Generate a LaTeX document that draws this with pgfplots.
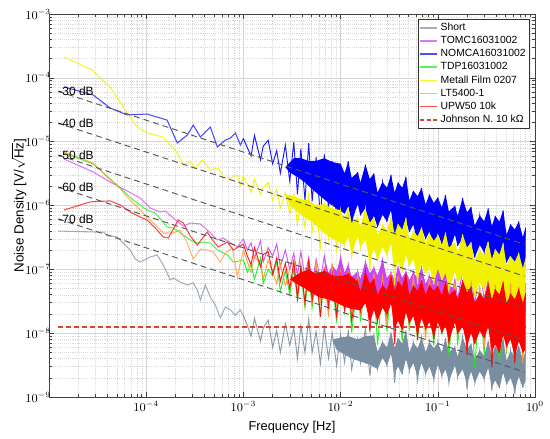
\documentclass[border=0pt]{standalone}
\usepackage{fontspec}
\setmainfont{Liberation Sans}
\usepackage{pgfplots}
\usepackage{pgfplotstable}
\pgfplotsset{compat=1.18}
\definecolor{cShort}{HTML}{7A8EA2}
\definecolor{cTOMC}{HTML}{CC44EE}
\definecolor{cNOMCA}{HTML}{0000FF}
\definecolor{cTDP}{HTML}{11EE11}
\definecolor{cMetall}{HTML}{F2F200}
\definecolor{cLT}{HTML}{FF9933}
\definecolor{cUPW}{HTML}{FF0000}
\definecolor{cJohn}{HTML}{D9452B}
\definecolor{cRef}{HTML}{555555}

\pgfplotstableread[row sep=\\]{
f gray mag blue green yel ora red\\
1.0e-3 1.9e-8 3.0e-7 1.12e-5 1.4e-7 2.9e-6 2.0e-7 2.5e-7\\
1.1e-3 1.3e-8 2.0e-7 8.0e-6 9.0e-8 2.2e-6 1.3e-7 1.6e-7\\
1.2e-3 9.0e-9 2.6e-7 6.0e-6 1.2e-7 1.6e-6 9.0e-8 1.2e-7\\
1.3e-3 1.7e-8 1.5e-7 1.25e-5 7.0e-8 2.6e-6 1.6e-7 2.2e-7\\
1.5e-3 7.5e-9 2.8e-7 5.2e-6 1.5e-7 1.5e-6 1.2e-7 1.1e-7\\
1.6e-3 1.2e-8 1.3e-7 8.5e-6 6.0e-8 1.9e-6 7.0e-8 1.7e-7\\
1.8e-3 1.6e-8 2.2e-7 1.05e-5 1.0e-7 2.3e-6 1.4e-7 1.9e-7\\
2.0e-3 6.0e-9 1.6e-7 4.5e-6 8.0e-8 1.2e-6 9.0e-8 8.5e-8\\
2.2e-3 1.1e-8 2.5e-7 7.2e-6 1.3e-7 1.8e-6 6.0e-8 1.5e-7\\
2.4e-3 5.0e-9 1.1e-7 3.2e-6 4.5e-8 9.0e-7 1.2e-7 6.5e-8\\
2.7e-3 1.4e-8 2.0e-7 8.8e-6 9.5e-8 1.6e-6 5.5e-8 1.25e-7\\
3.0e-3 6.5e-9 1.0e-7 2.4e-6 4.0e-8 7.5e-7 1.0e-7 5.0e-8\\
3.3e-3 1.2e-8 1.8e-7 9.8e-6 1.0e-7 1.5e-6 1.4e-7 1.3e-7\\
3.6e-3 4.0e-9 8.0e-8 1.5e-6 3.5e-8 5.0e-7 4.0e-8 3.5e-8\\
3.9e-3 1.3e-8 1.9e-7 7.8e-6 1.0e-7 1.3e-6 1.2e-7 1.1e-7\\
4.3e-3 5.0e-9 7.5e-8 1.2e-6 2.5e-8 4.5e-7 3.0e-8 3.0e-8\\
4.7e-3 1.69e-8 1.53e-7 9.48e-6 8.61e-8 1.60e-6 1.14e-7 1.43e-7\\
5.1e-3 5.0e-9 5.85e-8 1.16e-6 2.55e-8 3.97e-7 2.90e-8 3.29e-8\\
5.6e-3 1.06e-8 1.44e-7 5.71e-6 9.75e-8 9.84e-7 1.29e-7 8.89e-8\\
6.2e-3 3.34e-9 6.90e-8 6.21e-7 1.80e-8 2.10e-7 3.13e-8 1.80e-8\\
6.8e-3 1.23e-8 1.62e-7 6.34e-6 8.22e-8 1.12e-6 1.10e-7 1.02e-7\\
7.5e-3 4.04e-9 4.58e-8 9.0e-7 2.22e-8 3.00e-7 1.78e-8 2.67e-8\\
8.2e-3 1.01e-8 1.16e-7 5.01e-6 6.97e-8 9.06e-7 1.20e-7 8.38e-8\\
9.1e-3 3.13e-9 5.41e-8 6.22e-7 1.46e-8 2.04e-7 2.21e-8 1.88e-8\\
0.010 9.55e-9 1.56e-7 4.51e-6 7.83e-8 8.39e-7 9.10e-8 7.83e-8\\
0.011 3.48e-9 5.89e-8 7.48e-7 2.16e-8 2.43e-7 2.40e-8 2.32e-8\\
0.012 1.12e-8 1.19e-7 4.93e-6 6.71e-8 9.38e-7 9.48e-8 8.85e-8\\
0.013 2.72e-9 3.39e-8 4.9e-7 1.02e-8 1.56e-7 1.73e-8 1.55e-8\\
0.015 8.26e-9 9.33e-8 3.33e-6 7.50e-8 6.52e-7 8.51e-8 6.46e-8\\
0.016 3.44e-9 4.44e-8 7.03e-7 1.50e-8 2.21e-7 2.02e-8 2.27e-8\\
0.018 1.17e-8 1.32e-7 4.37e-6 5.96e-8 8.77e-7 8.32e-8 9.12e-8\\
0.020 2.16e-9 5.0e-8 3.16e-7 1.86e-8 9.79e-8 1.62e-8 1.05e-8\\
0.022 9.25e-9 1.07e-7 3.19e-6 6.44e-8 6.59e-7 8.89e-8 7.23e-8\\
0.024 2.74e-9 3.75e-8 4.59e-7 6.47e-9 1.40e-7 1.74e-8 1.55e-8\\
0.027 7.31e-9 1.41e-7 2.33e-6 5.86e-8 4.94e-7 7.55e-8 5.73e-8\\
0.030 3.12e-9 4.59e-8 5.57e-7 1.06e-8 1.67e-7 1.35e-8 1.93e-8\\
0.033 1.03e-8 9.03e-8 3.03e-6 5.70e-8 6.59e-7 8.83e-8 8.05e-8\\
0.036 1.66e-9 3.91e-8 1.90e-7 1.34e-8 5.62e-8 1.59e-8 6.71e-9\\
0.039 8.38e-9 1.09e-7 2.31e-6 6.12e-8 5.14e-7 7.80e-8 6.56e-8\\
0.043 2.25e-9 4.39e-8 3.10e-7 7.40e-9 9.06e-8 1.06e-8 1.12e-8\\
0.047 1.10e-8 9.27e-8 2.82e-6 5.21e-8 6.44e-7 6.87e-8 8.65e-8\\
0.051 2.59e-9 3.61e-8 3.85e-7 1.10e-8 1.11e-7 1.25e-8 1.42e-8\\
0.056 7.13e-9 9.06e-8 1.70e-6 6.12e-8 3.97e-7 8.07e-8 5.58e-8\\
0.062 1.81e-9 4.43e-8 2.07e-7 7.78e-9 5.87e-8 1.35e-8 7.78e-9\\
0.068 8.55e-9 1.06e-7 1.89e-6 5.38e-8 4.52e-7 7.18e-8 6.70e-8\\
0.075 2.29e-9 3.06e-8 2.99e-7 9.57e-9 8.38e-8 7.69e-9 1.15e-8\\
0.082 7.26e-9 7.87e-8 1.49e-6 4.74e-8 3.66e-7 8.15e-8 5.70e-8\\
0.091 1.86e-9 3.76e-8 2.07e-7 6.31e-9 5.70e-8 9.55e-9 8.13e-9\\
0.10 7.08e-9 1.11e-7 1.34e-6 5.56e-8 3.39e-7 6.46e-8 5.56e-8\\
0.11 2.11e-9 4.27e-8 2.49e-7 9.33e-9 6.78e-8 1.04e-8 1.0e-8\\
0.12 8.32e-9 8.81e-8 1.47e-6 4.95e-8 3.78e-7 7.0e-8 6.53e-8\\
0.13 1.65e-9 2.54e-8 1.63e-7 4.41e-9 4.37e-8 7.48e-9 6.67e-9\\
0.15 6.12e-9 6.95e-8 9.91e-7 5.58e-8 2.63e-7 6.34e-8 4.81e-8\\
0.16 2.08e-9 3.30e-8 2.34e-7 6.47e-9 6.18e-8 8.73e-9 9.79e-9\\
0.18 8.65e-9 9.82e-8 1.30e-6 4.44e-8 3.54e-7 6.19e-8 6.79e-8\\
0.20 1.31e-9 3.72e-8 1.05e-7 8.04e-9 2.74e-8 7.0e-9 4.52e-9\\
0.22 6.86e-9 7.96e-8 9.51e-7 4.80e-8 2.66e-7 6.62e-8 5.38e-8\\
0.24 1.66e-9 2.79e-8 1.53e-7 2.79e-9 3.92e-8 7.52e-9 6.70e-9\\
0.27 5.42e-9 1.05e-7 6.95e-7 4.37e-8 2.0e-7 5.62e-8 4.27e-8\\
0.30 1.90e-9 3.42e-8 1.85e-7 4.58e-9 4.67e-8 5.83e-9 8.34e-9\\
0.33 7.64e-9 6.73e-8 9.02e-7 4.25e-8 2.66e-7 6.58e-8 6.0e-8\\
0.36 1.25e-9 2.91e-8 6.31e-8 5.78e-9 1.57e-8 6.87e-9 2.90e-9\\
0.39 6.21e-9 8.11e-8 6.87e-7 4.56e-8 2.07e-7 5.81e-8 4.89e-8\\
0.43 1.37e-9 3.27e-8 1.03e-7 3.19e-9 2.53e-8 4.56e-9 4.83e-9\\
0.47 8.18e-9 6.90e-8 8.41e-7 3.88e-8 2.60e-7 5.12e-8 6.44e-8\\
0.51 1.57e-9 2.69e-8 1.28e-7 4.75e-9 3.10e-8 5.40e-9 6.12e-9\\
0.56 5.28e-9 6.75e-8 5.07e-7 4.56e-8 1.60e-7 6.01e-8 4.16e-8\\
0.62 1.10e-9 3.30e-8 6.87e-8 3.36e-9 1.64e-8 5.83e-9 3.36e-9\\
0.68 6.34e-9 7.91e-8 5.62e-7 4.01e-8 1.82e-7 5.35e-8 4.99e-8\\
0.75 1.39e-9 2.28e-8 9.95e-8 4.13e-9 2.34e-8 3.32e-9 4.97e-9\\
0.80 5.41e-9 5.87e-8 4.50e-7 3.54e-8 1.49e-7 6.08e-8 4.26e-8\\
}\noisy

\begin{document}
\begin{tikzpicture}
\path[use as bounding box] (-36.75pt,-31.5pt) rectangle (375.75pt,297.75pt);
\begin{axis}[
  at={(0pt,0pt)}, anchor=south west,
  scale only axis, width=364.5pt, height=287.25pt,
  xmode=log, ymode=log,
  xmin=1e-5, xmax=1, ymin=1e-9, ymax=1e-3,
  xtick={1e-5,1e-4,1e-3,1e-2,1e-1,1},
  xticklabels={{},$10^{-4}$,$10^{-3}$,$10^{-2}$,$10^{-1}$,$10^{0}$},
  ytick={1e-9,1e-8,1e-7,1e-6,1e-5,1e-4,1e-3},
  grid=both,
  major grid style={draw=black!17, line width=0.4pt},
  minor grid style={draw=black!15, line width=0.35pt, dash pattern=on 0.8pt off 0.8pt},
  axis line style={draw=black!75, line width=0.5pt},
  tick style={draw=black!75, line width=0.4pt},
  tick align=inside,
  major tick length=3.5pt, minor tick length=2pt,
  ticklabel style={font=\fontsize{9}{10}\selectfont},
  yticklabel style={inner sep=0.8pt, xshift=2.5pt},
  label style={font=\fontsize{9.6}{11}\selectfont},
  xlabel={Frequency [Hz]},
  ylabel={Noise Density [V/$\sqrt{\mbox{Hz}}$]},
  every axis y label/.style={at={(axis description cs:-0.062,0.5)}, rotate=90, anchor=center},
  legend style={at={(0.9897,0.987)}, anchor=north east, draw=black!80, fill=white,
    line width=0.5pt, font=\fontsize{7.8}{9}\selectfont, inner xsep=1pt, inner ysep=1pt,
    row sep=-1.2pt},
  legend cell align=left,
  legend image code/.code={\draw[#1, line width=1.1pt] (0pt,0pt) -- (13pt,0pt);},
]
% ---- Short
\addplot[fill=cShort, draw=none, forget plot] coordinates {
(8.2e-3,8.0e-9) (0.010,8.5e-9) (0.012,9.0e-9) (0.015,8.0e-9) (0.018,9.0e-9)
(0.022,9.25e-9) (0.024,5.1e-9) (0.027,7.31e-9) (0.030,6.0e-9) (0.033,1.03e-8) (0.036,5.9e-9) (0.039,8.38e-9) (0.043,6.9e-9) (0.047,1.10e-8) (0.051,5.0e-9) (0.056,7.13e-9) (0.062,5.8e-9) (0.068,8.55e-9) (0.075,5.1e-9) (0.082,7.26e-9) (0.091,5.8e-9) (0.10,7.08e-9) (0.11,5.0e-9) (0.12,8.32e-9) (0.13,5.0e-9) (0.15,6.12e-9) (0.16,4.3e-9) (0.18,8.65e-9) (0.20,5.6e-9) (0.22,6.86e-9) (0.24,3.8e-9) (0.27,5.42e-9) (0.30,4.4e-9) (0.33,7.64e-9) (0.36,4.3e-9) (0.39,6.21e-9) (0.43,5.1e-9) (0.47,8.18e-9) (0.51,3.7e-9) (0.56,5.28e-9) (0.62,4.3e-9) (0.68,6.34e-9) (0.75,3.8e-9) (0.80,5.41e-9)
(0.80,1.8e-9) (0.75,1.39e-9) (0.68,2.1e-9) (0.62,1.27e-9) (0.56,2.0e-9) (0.51,1.57e-9) (0.47,2.4e-9) (0.43,1.37e-9) (0.39,1.83e-9) (0.36,1.41e-9) (0.33,2.85e-9) (0.30,1.90e-9) (0.27,2.5e-9) (0.24,1.66e-9) (0.22,2.5e-9) (0.20,1.61e-9) (0.18,2.7e-9) (0.16,2.08e-9) (0.15,3.1e-9) (0.13,1.77e-9) (0.12,2.7e-9) (0.11,2.11e-9) (0.10,3.2e-9) (0.091,1.86e-9) (0.082,3.0e-9) (0.075,2.29e-9) (0.068,3.4e-9) (0.062,2.08e-9) (0.056,3.4e-9) (0.051,2.59e-9) (0.047,3.9e-9) (0.043,2.25e-9) (0.039,3.0e-9) (0.036,2.34e-9) (0.033,4.7e-9) (0.030,3.12e-9) (0.027,4.1e-9) (0.024,2.74e-9)
(0.020,3.2e-9) (0.016,3.6e-9) (0.013,4.0e-9) (0.011,4.6e-9) (9.1e-3,5.5e-9)} -- cycle;
\addplot[cShort, line width=0.8pt, opacity=0.7] coordinates {
(1.24e-5,3.98e-7) (3.13e-5,3.84e-7) (3.61e-5,3.84e-7) (3.96e-5,3.45e-7) (5.02e-5,3.21e-7) (6.84e-5,2.01e-7) (7.71e-5,1.45e-7) (8.67e-5,1.30e-7) (1.10e-4,1.56e-7) (1.30e-4,1.68e-7) (1.50e-4,1.17e-7) (1.77e-4,6.81e-8) (1.90e-4,7.31e-8) (2.24e-4,6.33e-8) (2.65e-4,5.68e-8) (3.05e-4,6.11e-8) (3.36e-4,4.74e-8) (3.61e-4,3.31e-8) (4.06e-4,5.68e-8) (4.57e-4,3.68e-8) (5.14e-4,2.76e-8) (5.79e-4,1.73e-8) (6.52e-4,2.57e-8) (7.35e-4,2.31e-8) (8.28e-4,1.92e-8) (9.31e-4,2.31e-8) (1.0e-3,1.9e-8)};
\addlegendentry{Short}
\addplot[cShort, line width=0.7pt, opacity=0.9, forget plot] table[x=f, y=gray] {\noisy};
% ---- TOMC
\addplot[fill=cTOMC, draw=none, forget plot] coordinates {
(6.8e-3,1.62e-7) (7.5e-3,8.7e-8) (8.2e-3,1.16e-7) (9.1e-3,9.3e-8) (0.010,1.56e-7) (0.011,8.9e-8) (0.012,1.19e-7) (0.013,7.5e-8) (0.015,9.33e-8) (0.016,7.0e-8) (0.018,1.32e-7) (0.020,8.6e-8) (0.022,1.07e-7) (0.024,8.0e-8) (0.027,1.41e-7) (0.030,7.2e-8) (0.033,9.03e-8) (0.036,6.8e-8) (0.039,1.09e-7) (0.043,7.4e-8) (0.047,9.27e-8) (0.051,6.8e-8) (0.056,9.06e-8) (0.062,7.2e-8) (0.068,1.06e-7) (0.075,5.9e-8) (0.082,7.87e-8) (0.091,6.3e-8) (0.10,1.11e-7) (0.11,6.6e-8) (0.12,8.81e-8) (0.13,5.6e-8) (0.15,5.0e-8)
(0.12,3.0e-8) (0.05,3.5e-8) (0.02,4.0e-8) (0.01,5.0e-8) (7.5e-3,5.0e-8)} -- cycle;
\addplot[cTOMC, line width=0.8pt, opacity=0.7] coordinates {
(1.43e-5,5.35e-6) (2.85e-5,3.35e-6) (4.26e-5,2.33e-6) (6.37e-5,1.69e-6) (8.67e-5,1.31e-6) (1.10e-4,9.14e-7) (1.39e-4,7.91e-7) (1.57e-4,8.20e-7) (1.90e-4,6.37e-7) (2.41e-4,4.77e-7) (2.84e-4,5.32e-7) (3.61e-4,5.13e-7) (4.25e-4,4.13e-7) (5.40e-4,2.88e-7) (6.22e-4,3.10e-7) (7.35e-4,2.58e-7) (8.68e-4,2.24e-7) (1.0e-3,3.0e-7)};
\addlegendentry{TOMC16031002}
\addplot[cTOMC, line width=0.7pt, opacity=0.9, forget plot] table[x=f, y=mag] {\noisy};
% ---- NOMCA
\addplot[fill=cNOMCA, draw=none, forget plot] coordinates {
(2.7e-3,4.0e-6) (3.3e-3,5.5e-6) (3.9e-3,5.5e-6) (4.7e-3,5.0e-6) (5.6e-3,5.0e-6) (6.8e-3,5.5e-6) (8.2e-3,4.8e-6)
(0.010,4.51e-6) (0.011,3.2e-6) (0.012,4.93e-6) (0.013,2.7e-6) (0.015,3.33e-6) (0.016,2.3e-6) (0.018,4.37e-6) (0.020,2.6e-6) (0.022,3.19e-6) (0.024,1.6e-6) (0.027,2.33e-6) (0.030,1.9e-6) (0.033,3.03e-6) (0.036,1.6e-6) (0.039,2.31e-6) (0.043,1.9e-6) (0.047,2.82e-6) (0.051,1.2e-6) (0.056,1.70e-6) (0.062,1.4e-6) (0.068,1.89e-6) (0.075,1.04e-6) (0.082,1.49e-6) (0.091,1.1e-6) (0.10,1.34e-6) (0.11,9.4e-7) (0.12,1.47e-6) (0.13,8.1e-7) (0.15,9.91e-7) (0.16,6.9e-7) (0.18,1.30e-6) (0.20,7.8e-7) (0.22,9.51e-7) (0.24,4.9e-7) (0.27,6.95e-7) (0.30,5.7e-7) (0.33,9.02e-7) (0.36,4.8e-7) (0.39,6.87e-7) (0.43,5.6e-7) (0.47,8.41e-7) (0.51,3.5e-7) (0.56,5.07e-7) (0.62,4.2e-7) (0.68,5.62e-7) (0.75,3.2e-7) (0.80,4.50e-7)
(0.80,1.1e-7) (0.75,9.95e-8) (0.68,1.5e-7) (0.62,8.66e-8) (0.56,1.66e-7) (0.51,1.28e-7) (0.47,1.9e-7) (0.43,1.03e-7) (0.39,1.46e-7) (0.36,1.12e-7) (0.33,2.8e-7) (0.30,1.85e-7) (0.27,2.4e-7) (0.24,1.53e-7) (0.22,2.3e-7) (0.20,1.48e-7) (0.18,3.0e-7) (0.16,2.34e-7) (0.15,3.5e-7) (0.13,1.83e-7) (0.12,3.2e-7) (0.11,2.49e-7) (0.10,3.7e-7) (0.091,2.17e-7) (0.082,3.9e-7) (0.075,2.99e-7) (0.068,4.5e-7) (0.062,2.61e-7) (0.056,5.0e-7) (0.051,3.85e-7) (0.047,5.8e-7) (0.043,3.10e-7) (0.039,4.4e-7) (0.036,3.38e-7) (0.033,8.4e-7) (0.030,5.57e-7) (0.027,7.2e-7) (0.024,4.59e-7) (0.022,6.9e-7) (0.020,4.46e-7) (0.018,9.1e-7) (0.016,7.03e-7) (0.015,1.05e-6) (0.013,5.49e-7) (0.012,9.7e-7) (0.011,7.48e-7)
(9.1e-3,9.0e-7) (7.5e-3,1.1e-6) (6.2e-3,1.4e-6) (5.1e-3,1.8e-6) (4.3e-3,2.3e-6) (3.6e-3,2.8e-6) (3.0e-3,3.3e-6)} -- cycle;
\addplot[cNOMCA, line width=0.8pt, opacity=0.7] coordinates {
(1.43e-5,7.18e-5) (2.85e-5,5.38e-5) (4.26e-5,3.37e-5) (6.37e-5,2.62e-5) (1.02e-4,2.71e-5) (1.39e-4,2.35e-5) (1.64e-4,2.18e-5) (2.09e-4,9.53e-6) (2.65e-4,1.27e-5) (3.05e-4,1.82e-5) (3.61e-4,1.18e-5) (4.57e-4,1.70e-5) (5.40e-4,8.25e-6) (6.52e-4,1.06e-5) (7.35e-4,1.14e-5) (8.28e-4,1.37e-5) (9.31e-4,8.87e-6) (1.0e-3,1.12e-5)};
\addlegendentry{NOMCA16031002}
\addplot[cNOMCA, line width=0.7pt, opacity=0.9, forget plot] table[x=f, y=blue] {\noisy};
% ---- TDP
\addplot[cTDP, line width=0.8pt, opacity=0.7] coordinates {
(1.43e-5,6.64e-6) (2.85e-5,4.47e-6) (3.36e-5,3.60e-6) (5.02e-5,2.09e-6) (7.35e-5,1.22e-6) (1.02e-4,8.50e-7) (1.24e-4,7.63e-7) (1.64e-4,4.60e-7) (1.90e-4,4.44e-7) (2.41e-4,3.45e-7) (2.84e-4,2.88e-7) (3.36e-4,2.58e-7) (3.87e-4,2.68e-7) (4.57e-4,2.58e-7) (5.40e-4,2.01e-7) (6.84e-4,1.68e-7) (7.89e-4,1.30e-7) (1.0e-3,1.4e-7)};
\addlegendentry{TDP16031002}
\addplot[cTDP, line width=0.7pt, opacity=0.9, forget plot] table[x=f, y=green] {\noisy};
% ---- Metall film
\addplot[fill=cMetall, draw=none, forget plot] coordinates {
(2.7e-3,1.5e-6) (3.3e-3,1.4e-6) (3.9e-3,1.25e-6) (4.7e-3,1.2e-6) (5.6e-3,1.0e-6) (6.8e-3,1.05e-6) (8.2e-3,9.0e-7)
(0.010,8.39e-7) (0.011,5.9e-7) (0.012,9.38e-7) (0.013,5.3e-7) (0.015,6.52e-7) (0.016,4.6e-7) (0.018,8.77e-7) (0.020,5.4e-7) (0.022,6.59e-7) (0.024,3.5e-7) (0.027,4.94e-7) (0.030,4.1e-7) (0.033,6.59e-7) (0.036,3.6e-7) (0.039,5.14e-7) (0.043,4.2e-7) (0.047,6.44e-7) (0.051,2.8e-7) (0.056,3.97e-7) (0.062,3.3e-7) (0.068,4.52e-7) (0.075,2.6e-7) (0.082,3.66e-7) (0.091,2.8e-7) (0.10,3.39e-7) (0.11,2.4e-7) (0.12,3.78e-7) (0.13,2.2e-7) (0.15,2.63e-7) (0.16,1.8e-7) (0.18,3.54e-7) (0.20,2.2e-7) (0.22,2.66e-7) (0.24,1.4e-7) (0.27,2.0e-7) (0.30,1.64e-7) (0.33,2.66e-7) (0.36,1.45e-7) (0.39,2.07e-7) (0.43,1.7e-7) (0.47,2.60e-7) (0.51,1.12e-7) (0.56,1.60e-7) (0.62,1.31e-7) (0.68,1.82e-7) (0.75,1.04e-7) (0.80,1.49e-7)
(0.80,2.6e-8) (0.75,2.34e-8) (0.68,3.5e-8) (0.62,2.07e-8) (0.56,4.0e-8) (0.51,3.10e-8) (0.47,4.7e-8) (0.43,2.53e-8) (0.39,3.6e-8) (0.36,2.79e-8) (0.33,7.0e-8) (0.30,4.67e-8) (0.27,6.1e-8) (0.24,3.92e-8) (0.22,5.9e-8) (0.20,3.86e-8) (0.18,8.0e-8) (0.16,6.18e-8) (0.15,9.3e-8) (0.13,4.89e-8) (0.12,8.8e-8) (0.11,6.78e-8) (0.10,1.02e-7) (0.091,5.99e-8) (0.082,1.09e-7) (0.075,8.38e-8) (0.068,1.26e-7) (0.062,7.40e-8) (0.056,1.44e-7) (0.051,1.11e-7) (0.047,1.67e-7) (0.043,9.06e-8) (0.039,1.3e-7) (0.036,1.0e-7) (0.033,2.5e-7) (0.030,1.67e-7) (0.027,2.2e-7) (0.024,1.40e-7) (0.022,2.1e-7) (0.020,1.38e-7) (0.018,2.9e-7) (0.016,2.21e-7) (0.015,3.3e-7) (0.013,1.75e-7) (0.012,3.2e-7) (0.011,2.43e-7)
(9.1e-3,2.8e-7) (7.5e-3,3.3e-7) (6.2e-3,4.2e-7) (5.1e-3,5.5e-7) (4.3e-3,6.5e-7) (3.6e-3,8.0e-7) (3.0e-3,1.0e-6)} -- cycle;
\addplot[cMetall, line width=0.8pt, opacity=0.8] coordinates {
(1.43e-5,2.12e-4) (2.77e-5,1.33e-4) (4.26e-5,7.18e-5) (6.37e-5,2.81e-5) (8.07e-5,1.70e-5) (1.02e-4,1.37e-5) (1.50e-4,1.18e-5) (2.09e-4,6.64e-6) (2.41e-4,4.31e-6) (2.84e-4,4.80e-6) (3.20e-4,3.87e-6) (3.78e-4,5.16e-6) (4.57e-4,3.60e-6) (5.52e-4,3.87e-6) (6.22e-4,2.79e-6) (7.35e-4,2.70e-6) (8.68e-4,3.01e-6) (9.31e-4,2.09e-6) (1.0e-3,2.9e-6)};
\addlegendentry{Metall Film 0207}
\addplot[cMetall, line width=0.7pt, opacity=0.95, forget plot] table[x=f, y=yel] {\noisy};
% ---- LT5400
\addplot[cLT, line width=0.8pt, opacity=0.7] coordinates {
(1.43e-5,6.90e-6) (2.85e-5,4.63e-6) (4.26e-5,2.51e-6) (5.02e-5,2.09e-6) (6.37e-5,1.36e-6) (8.67e-5,8.50e-7) (1.10e-4,5.93e-7) (1.50e-4,3.71e-7) (1.90e-4,3.71e-7) (2.24e-4,4.13e-7) (2.65e-4,2.58e-7) (3.05e-4,1.45e-7) (3.61e-4,2.08e-7) (4.25e-4,2.01e-7) (4.91e-4,1.87e-7) (5.79e-4,1.30e-7) (6.52e-4,1.80e-7) (7.70e-4,2.16e-7) (8.68e-4,7.58e-8) (9.31e-4,1.26e-7) (1.0e-3,2.0e-7)};
\addlegendentry{LT5400-1}
\addplot[cLT, line width=0.7pt, opacity=0.9, forget plot] table[x=f, y=ora] {\noisy};
% ---- Johnson (drawn beneath red)
\addplot[cJohn, line width=1.5pt, dash pattern=on 3.6pt off 2.4pt, forget plot] coordinates {(1.24e-5,1.25e-8) (0.8,1.25e-8)};
% ---- UPW50
\addplot[fill=cUPW, draw=none, forget plot] coordinates {
(3.0e-3,7.0e-8) (3.9e-3,9.0e-8) (4.7e-3,1.0e-7) (5.6e-3,8.5e-8) (6.8e-3,9.5e-8) (8.2e-3,8.0e-8) (0.010,7.8e-8) (0.012,8.5e-8)
(0.015,6.46e-8) (0.016,4.5e-8) (0.018,9.12e-8) (0.020,5.9e-8) (0.022,7.23e-8) (0.024,4.0e-8) (0.027,5.73e-8) (0.030,4.7e-8) (0.033,8.05e-8) (0.036,4.6e-8) (0.039,6.56e-8) (0.043,5.4e-8) (0.047,8.65e-8) (0.051,3.9e-8) (0.056,5.58e-8) (0.062,4.6e-8) (0.068,6.70e-8) (0.075,4.0e-8) (0.082,5.70e-8) (0.091,4.6e-8) (0.10,5.56e-8) (0.11,3.9e-8) (0.12,6.53e-8) (0.13,3.9e-8) (0.15,4.81e-8) (0.16,3.4e-8) (0.18,6.79e-8) (0.20,4.4e-8) (0.22,5.38e-8) (0.24,3.0e-8) (0.27,4.27e-8) (0.30,3.5e-8) (0.33,6.0e-8) (0.36,3.4e-8) (0.39,4.89e-8) (0.43,4.0e-8) (0.47,6.44e-8) (0.51,2.9e-8) (0.56,4.16e-8) (0.62,3.4e-8) (0.68,4.99e-8) (0.75,3.0e-8) (0.80,4.26e-8)
(0.80,5.5e-9) (0.75,4.97e-9) (0.68,7.5e-9) (0.62,4.23e-9) (0.56,8.0e-9) (0.51,6.12e-9) (0.47,9.2e-9) (0.43,4.83e-9) (0.39,6.7e-9) (0.36,5.16e-9) (0.33,1.25e-8) (0.30,8.34e-9) (0.27,1.08e-8) (0.24,6.70e-9) (0.22,1.0e-8) (0.20,6.37e-9) (0.18,1.27e-8) (0.16,9.79e-9) (0.15,1.47e-8) (0.13,7.47e-9) (0.12,1.3e-8) (0.11,1.0e-8) (0.10,1.5e-8) (0.091,8.54e-9) (0.082,1.5e-8) (0.075,1.15e-8) (0.068,1.7e-8) (0.062,9.80e-9) (0.056,1.85e-8) (0.051,1.42e-8) (0.047,2.1e-8) (0.043,1.12e-8) (0.039,1.55e-8) (0.036,1.19e-8) (0.033,2.9e-8) (0.030,1.93e-8) (0.027,2.5e-8) (0.024,1.55e-8) (0.022,2.3e-8) (0.020,1.48e-8) (0.018,2.95e-8) (0.016,2.27e-8)
(0.013,2.4e-8) (0.011,2.6e-8) (9.1e-3,3.0e-8) (7.5e-3,3.4e-8) (6.2e-3,3.6e-8) (5.1e-3,4.2e-8) (4.3e-3,5.0e-8) (3.6e-3,5.8e-8)} -- cycle;
\addplot[cUPW, line width=0.8pt, opacity=0.7] coordinates {
(1.43e-5,8.50e-7) (2.65e-5,1.14e-6) (4.26e-5,1.18e-6) (5.40e-5,1.02e-6) (6.84e-5,7.91e-7) (8.67e-5,6.60e-7) (1.02e-4,5.93e-7) (1.24e-4,4.44e-7) (1.50e-4,3.21e-7) (1.69e-4,3.10e-7) (1.90e-4,4.28e-7) (2.14e-4,5.93e-7) (2.41e-4,5.32e-7) (2.84e-4,3.33e-7) (3.36e-4,2.40e-7) (3.61e-4,2.78e-7) (4.25e-4,3.84e-7) (4.79e-4,2.88e-7) (5.52e-4,2.24e-7) (6.84e-4,2.68e-7) (7.89e-4,2.01e-7) (1.0e-3,2.5e-7)};
\addlegendentry{UPW50 10k}
\addplot[cUPW, line width=0.7pt, opacity=0.9, forget plot] table[x=f, y=red] {\noisy};
\addlegendimage{cJohn, line width=1.5pt, dash pattern=on 3pt off 2pt}
\addlegendentry{Johnson N. 10 kΩ}
% ---- reference slopes
\addplot[cRef, line width=0.7pt, dash pattern=on 4.5pt off 3pt, forget plot] coordinates {(1.24e-5,6.17e-5) (0.78,2.46e-7)};
\addplot[cRef, line width=0.7pt, dash pattern=on 4.5pt off 3pt, forget plot] coordinates {(1.24e-5,1.95e-5) (0.78,7.8e-8)};
\addplot[cRef, line width=0.7pt, dash pattern=on 4.5pt off 3pt, forget plot] coordinates {(1.24e-5,6.17e-6) (0.78,2.46e-8)};
\addplot[cRef, line width=0.7pt, dash pattern=on 4.5pt off 3pt, forget plot] coordinates {(1.24e-5,1.95e-6) (0.78,7.8e-9)};
\addplot[cRef, line width=0.7pt, dash pattern=on 4.5pt off 3pt, forget plot] coordinates {(1.24e-5,6.17e-7) (0.78,2.46e-9)};
\node[anchor=west, inner sep=0pt, font=\fontsize{9}{10}\selectfont] at (axis cs:1.24e-5,6.17e-5) {-30 dB};
\node[anchor=west, inner sep=0pt, font=\fontsize{9}{10}\selectfont] at (axis cs:1.24e-5,1.95e-5) {-40 dB};
\node[anchor=west, inner sep=0pt, font=\fontsize{9}{10}\selectfont] at (axis cs:1.24e-5,6.17e-6) {-50 dB};
\node[anchor=west, inner sep=0pt, font=\fontsize{9}{10}\selectfont] at (axis cs:1.24e-5,1.95e-6) {-60 dB};
\node[anchor=west, inner sep=0pt, font=\fontsize{9}{10}\selectfont] at (axis cs:1.24e-5,6.17e-7) {-70 dB};
\end{axis}
\end{tikzpicture}
\end{document}
